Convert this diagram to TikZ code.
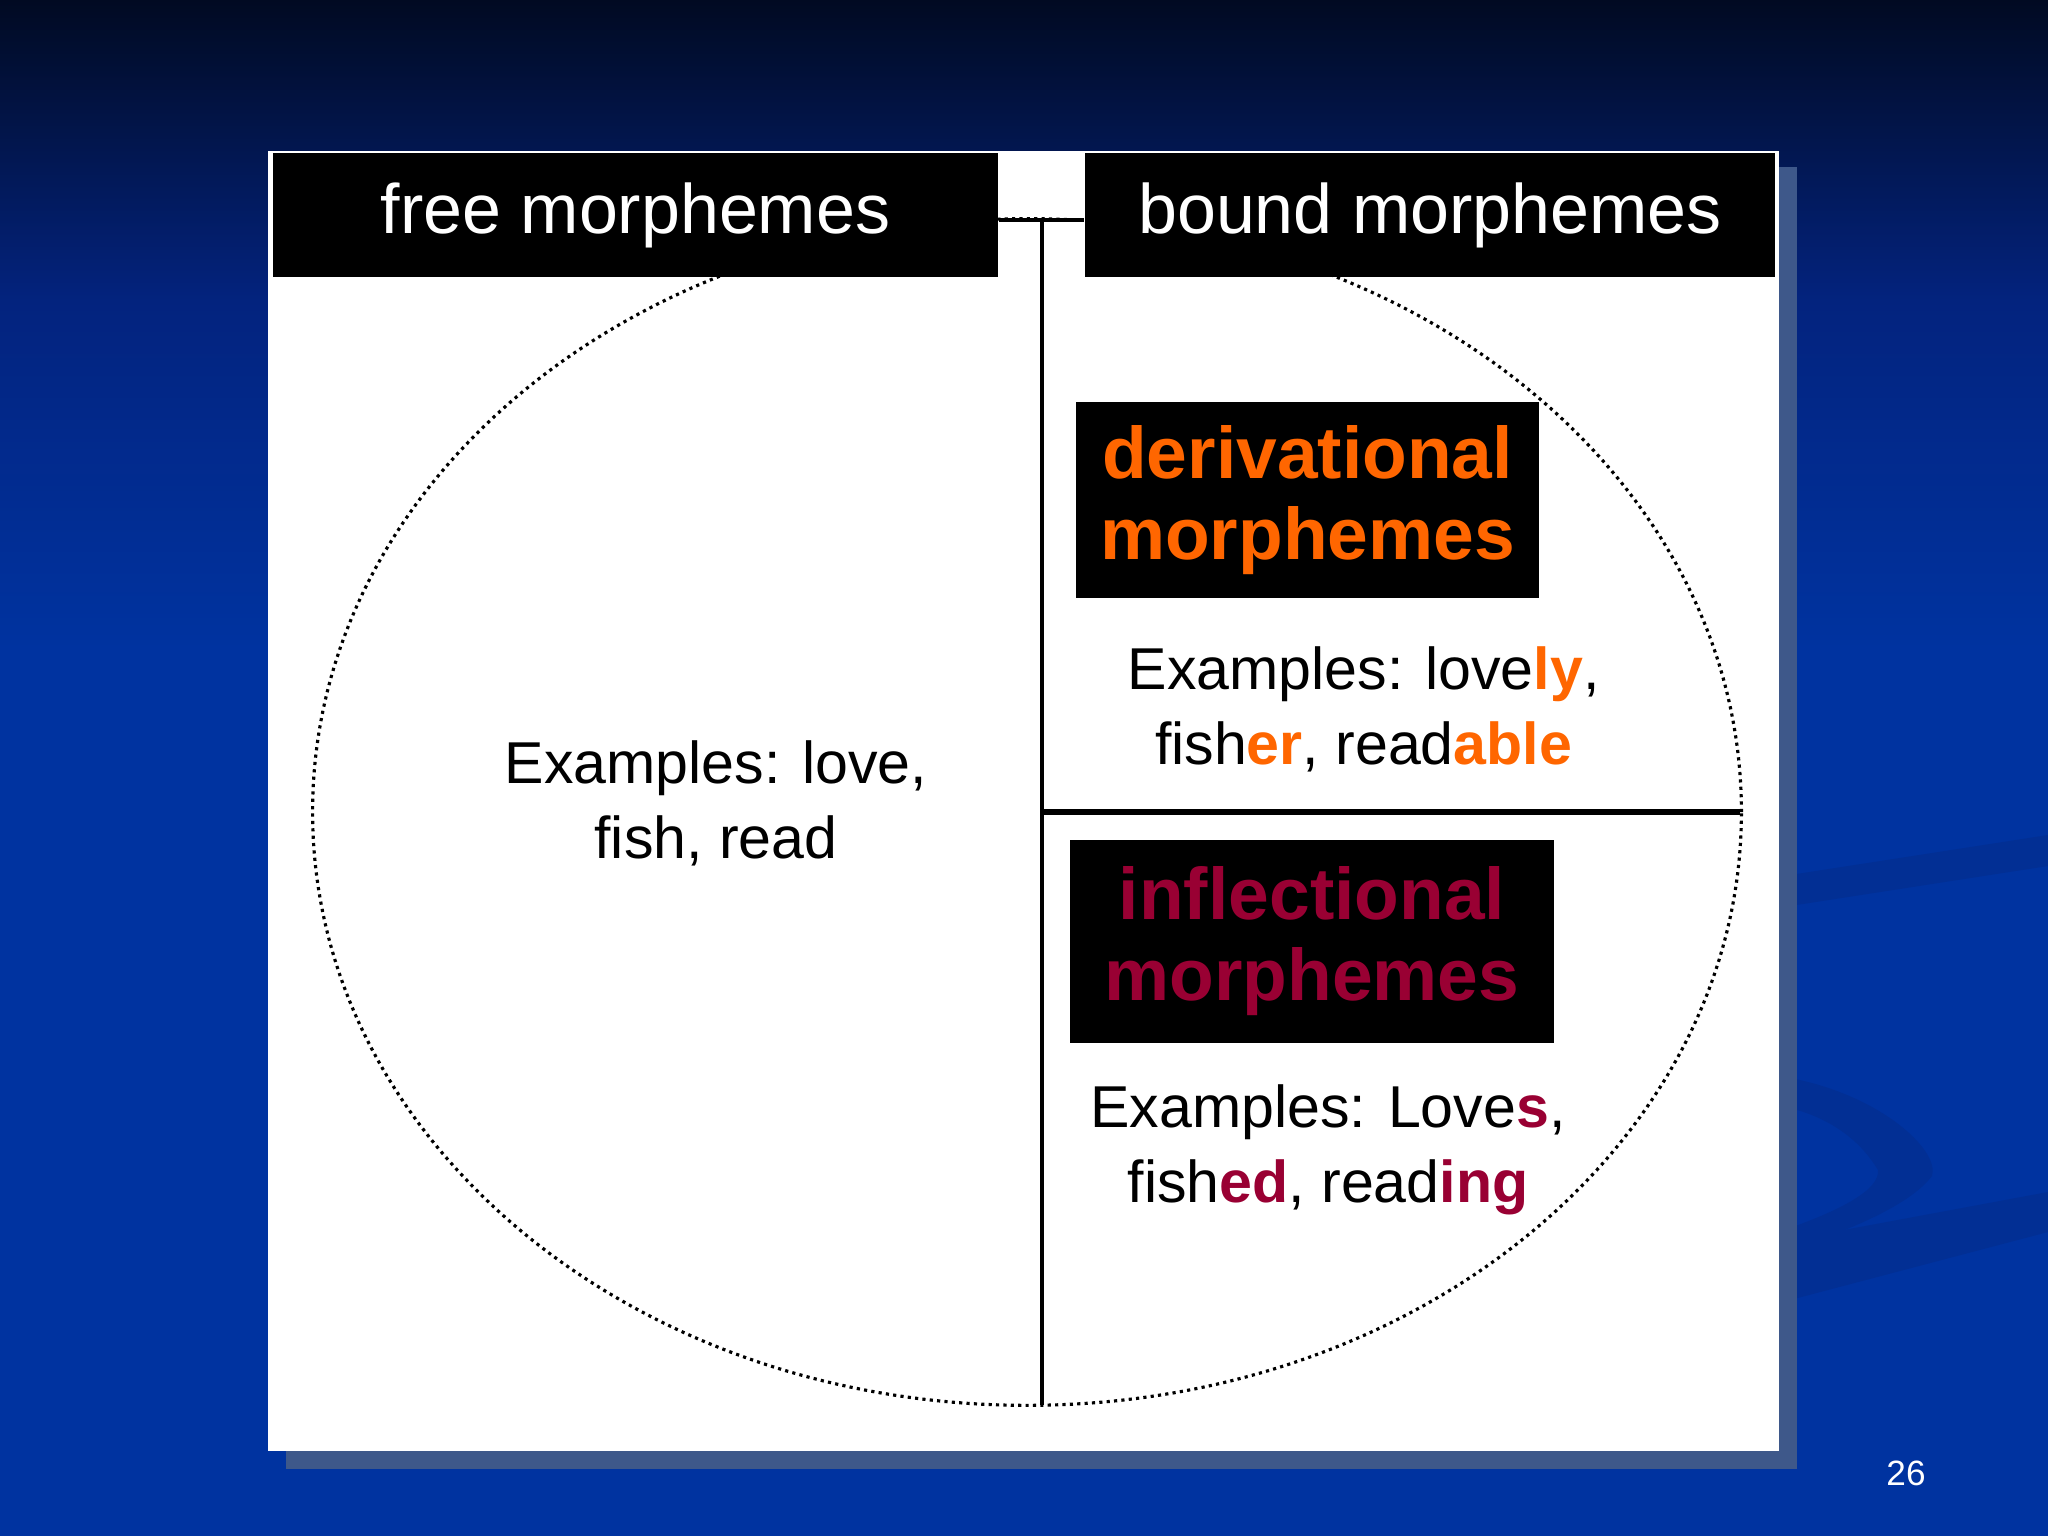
\documentclass[tikz,border=0pt]{standalone}
\usepackage{fontspec}
\setmainfont{Liberation Sans}
\usepackage{xcolor}
\usepackage{tikz}
\usetikzlibrary{positioning, calc}

\definecolor{bgtop}{HTML}{010A22}
\definecolor{bgmid}{HTML}{03237E}
\definecolor{bgblue}{HTML}{0033A0}
\definecolor{swoosh}{HTML}{022F94}
\definecolor{shadowblue}{RGB}{62,88,138}
\definecolor{derivorange}{HTML}{FF6600}
\definecolor{inflred}{HTML}{990033}

\newcommand{\dsuf}[1]{\textbf{\color{derivorange}#1}}
\newcommand{\isuf}[1]{\textbf{\color{inflred}#1}}

\begin{document}
\begin{tikzpicture}[
    x=0.01cm, y=-0.01cm,
    headbox/.style={rectangle, fill=black, text=white, inner sep=0pt, minimum height=1.24cm, font=\fontsize{19.9}{22}\selectfont},
    typebox/.style={rectangle, fill=black, inner sep=0pt, align=center, font=\bfseries\fontsize{20.8}{23}\selectfont},
    examples/.style={inner sep=0pt, align=center, font=\fontsize{16.8}{21.3}\selectfont},
    tline/.style={black, line width=1.3pt},
    dots/.style={black, line width=0.9pt, dash pattern=on 0.9pt off 1.2pt}
]
\useasboundingbox (0,0) rectangle (2048,1536);

% slide background
\fill[bgblue] (0,0) rectangle (2048,1536);
\shade[top color=bgtop, bottom color=bgmid] (0,0) rectangle (2048,300);
\shade[top color=bgmid, bottom color=bgblue] (0,299) rectangle (2048,650);
\fill[swoosh] (1790,875) -- (2048,835) -- (2048,866) -- (1790,906) -- cycle;
\fill[swoosh] (1790,1078) .. controls (1880,1095) and (1940,1150) .. (1932,1176)
    .. controls (1910,1205) and (1850,1230) .. (1790,1250) -- (1790,1228)
    .. controls (1840,1210) and (1880,1190) .. (1878,1170)
    .. controls (1860,1140) and (1830,1118) .. (1790,1108) -- cycle;
\fill[swoosh] (1790,1240) -- (2048,1192) -- (2048,1232) -- (1790,1300) -- cycle;

% panel
\fill[shadowblue] (286,167) rectangle (1797,1469);
\fill[white] (268,151) rectangle (1779,1451);

\draw[dots] (1027,812) ellipse [x radius=7.14cm, y radius=5.93cm];

\node[headbox, minimum width=7.25cm] (free) at (635.5,215) {free morphemes};
\node[headbox, minimum width=6.90cm] (bound) at (1430,215) {bound morphemes};

\coordinate (join) at (1042,220);
\coordinate (foot) at (1042,1405);
\coordinate (split) at (1042,812);
\coordinate (rim) at (1740,812);

\draw[black, line width=0.9pt] (free.east |- join) -- (bound.west |- join);
\draw[tline] (join) -- (foot);
\draw[tline, line width=1.7pt] (split) -- (rim);

\node[typebox, text=derivorange, minimum width=4.63cm, minimum height=1.96cm] (deriv) at (1307.5,500) {derivational\\morphemes};
\node[typebox, text=inflred, minimum width=4.84cm, minimum height=2.03cm] (infl) at (1312,941.5) {inflectional\\morphemes};

\node[examples] (freeex) at (716,803) {Examples: love,\\fish, read};
\node[examples, below=0.47cm of deriv, xshift=0.56cm] (derivex) {Examples: love\dsuf{ly},\\fish\dsuf{er}, read\dsuf{able}};
\node[examples, below=0.40cm of infl, xshift=0.16cm] (inflex) {Examples: Love\isuf{s},\\fish\isuf{ed}, read\isuf{ing}};

\node[text=white, font=\fontsize{10}{12}\selectfont] (pagenum) at (1906,1473) {26};

\end{tikzpicture}
\end{document}
